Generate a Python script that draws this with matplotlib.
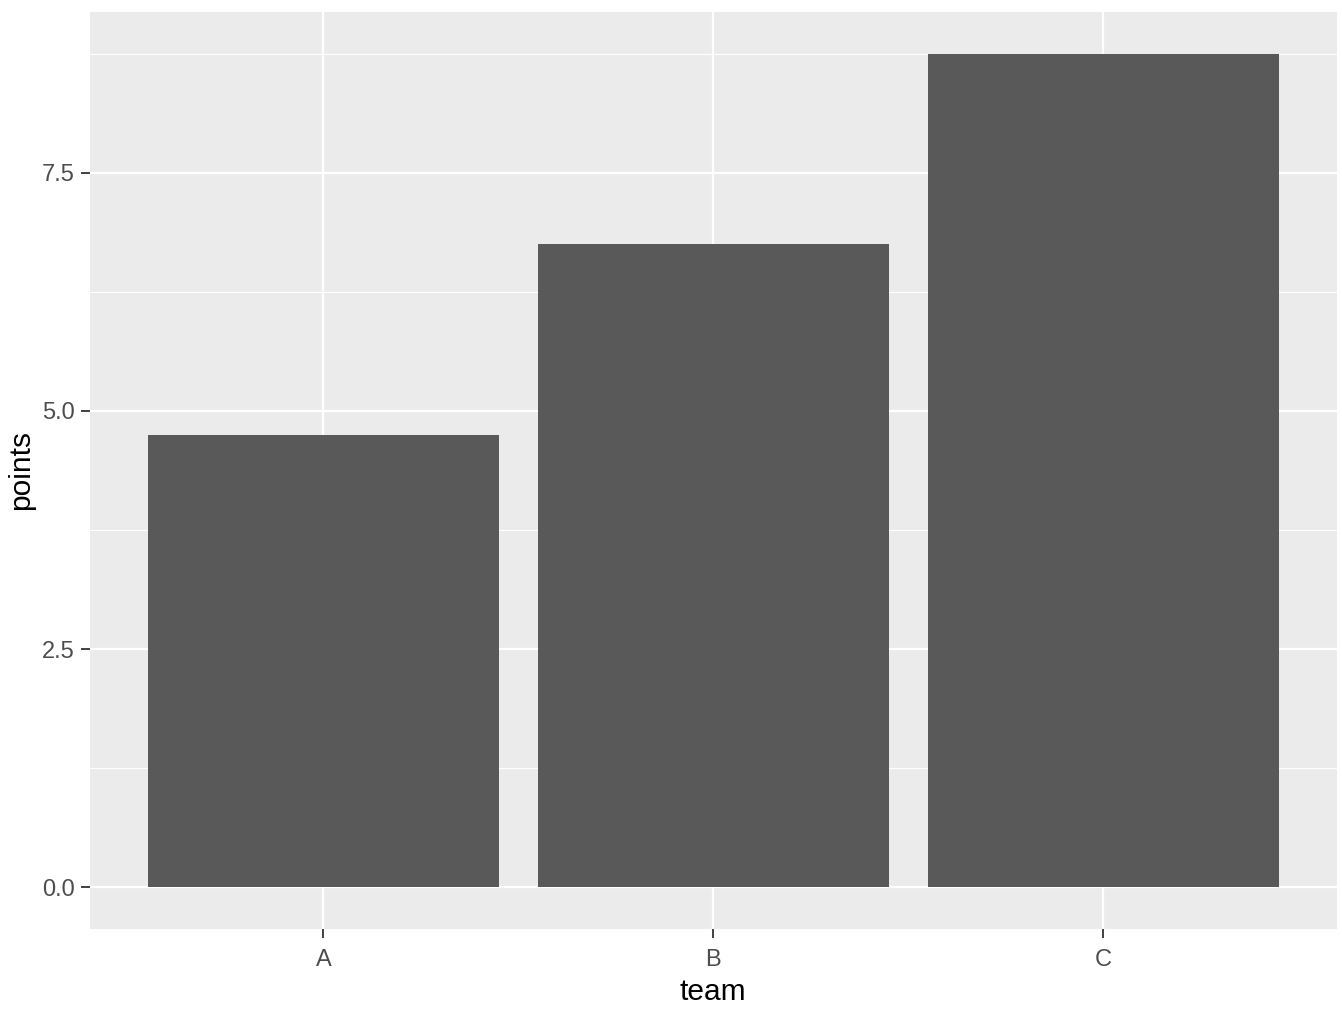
import matplotlib
matplotlib.use("Agg")
import matplotlib.pyplot as plt
from matplotlib.ticker import MultipleLocator

# data
teams = ["A", "B", "C"]
points = [4.75, 6.75, 8.75]

plt.rcParams['font.family'] = ['Liberation Sans', 'DejaVu Sans']

W, H = 1342, 1016
fig = plt.figure(figsize=(W / 100, H / 100), dpi=100)
ax = fig.add_axes([89.5 / W, (H - 929) / H, (1337 - 89.5) / W, (929 - 12) / H])

x = list(range(1, len(teams) + 1))
ax.bar(x, points, width=0.9, color="#595959", zorder=3)

# ggplot-like expansion
ax.set_xlim(0.4, len(teams) + 0.6)
top = max(points)
ax.set_ylim(-0.05 * top, top * 1.05)

ax.set_facecolor("#EBEBEB")
for s in ax.spines.values():
    s.set_visible(False)

ax.set_xticks(x)
ax.set_xticklabels(teams)
ax.yaxis.set_major_locator(MultipleLocator(2.5))
ax.yaxis.set_minor_locator(MultipleLocator(1.25))
ax.yaxis.set_major_formatter(matplotlib.ticker.FormatStrFormatter("%.1f"))

ax.grid(which="major", color="white", linewidth=1.6, zorder=0)
ax.grid(which="minor", axis="y", color="white", linewidth=0.8, zorder=0)
ax.set_axisbelow(True)

ax.tick_params(which="major", length=6.5, width=1.3, color="#333333",
               labelcolor="#4D4D4D", labelsize=17)
ax.tick_params(axis="y", pad=4)
ax.tick_params(axis="x", pad=8)
ax.tick_params(which="minor", length=0)

ax.set_xlabel("team", fontsize=21.5, color="black", labelpad=5)
ax.set_ylabel("points", fontsize=21.5, color="black", labelpad=5)

fig.savefig("out.png", dpi=100, facecolor="white")
